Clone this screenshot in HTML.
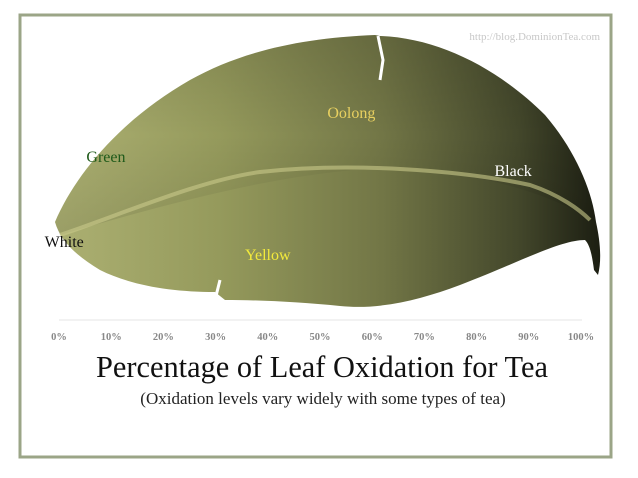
<!DOCTYPE html>
<html><head><meta charset="utf-8"><style>
html,body{margin:0;padding:0;background:#fff;}
svg{display:block;font-family:"Liberation Serif",serif;}
</style></head><body>
<svg width="638" height="478" viewBox="0 0 638 478">
<defs>
<linearGradient id="lg" x1="0" y1="0" x2="1" y2="0">
<stop offset="0" stop-color="#acb072"/>
<stop offset="0.3" stop-color="#959a5c"/>
<stop offset="0.6" stop-color="#727646"/>
<stop offset="0.85" stop-color="#43472b"/>
<stop offset="1" stop-color="#1c1e12"/>
</linearGradient>
<linearGradient id="vg" x1="0" y1="0" x2="0" y2="1">
<stop offset="0" stop-color="#000" stop-opacity="0.12"/>
<stop offset="0.5" stop-color="#000" stop-opacity="0"/>
<stop offset="1" stop-color="#000" stop-opacity="0.1"/>
</linearGradient>
</defs>
<rect x="20" y="15" width="591" height="442" fill="#fff" stroke="#9ba587" stroke-width="3"/>
<text x="600" y="40" font-size="11" fill="#c8c8c8" text-anchor="end">http://blog.DominionTea.com</text>
<g>
<path d="M55,222 C75,175 120,120 190,80 C240,52 300,38 375,35 L380,36 C440,38 500,70 545,115 C575,150 592,190 596,222 C600,240 602,260 598,275 L594,270 C592,255 590,245 585,240 C560,240 520,262 460,285 C420,300 380,310 340,306 C300,302 260,300 225,300 L215,292 C170,292 130,285 100,270 C75,255 60,240 55,222 Z" fill="url(#lg)"/>
<path d="M55,222 C75,175 120,120 190,80 C240,52 300,38 375,35 L380,36 C440,38 500,70 545,115 C575,150 592,190 596,222 C560,200 500,175 400,168 C300,168 180,200 60,235 Z" fill="url(#vg)"/>
<path d="M60,235 C120,215 200,180 260,172 C350,162 460,170 530,185 C560,195 580,210 590,220" fill="none" stroke="#c9c98a" stroke-width="4" stroke-opacity="0.6"/>
<path d="M378,36 L383,60 L380,80" stroke="#fff" stroke-width="3" fill="none"/>
<path d="M220,280 L215,300" stroke="#fff" stroke-width="3" fill="none"/>
</g>
<g id="labels"></g>
<line x1="59" y1="320" x2="582" y2="320" stroke="#e6e6e6" stroke-width="1"/>
<g id="ticks"></g>
<text x="322" y="377" font-size="31" text-anchor="middle" fill="#111" transform="translate(322 0) scale(0.98 1) translate(-322 0)">Percentage of Leaf Oxidation for Tea</text>
<text x="323" y="404" font-size="17" text-anchor="middle" fill="#222">(Oxidation levels vary widely with some types of tea)</text>
</svg>
<script>
const teaNames = ["White","Green","Yellow","Oolong","Black"];
const teaPcts = [1,9,40,56,87];
const teaYs = [241,156,254,112,170];
const teaColors = ["#111","#1f5a1a","#f2ea3c","#e8d060","#fff"];
const tickVals = [0,10,20,30,40,50,60,70,80,90,100];
const tickLabels = ["0%","10%","20%","30%","40%","50%","60%","70%","80%","90%","100%"];
const x = p => 59 + p*5.22;
const NS="http://www.w3.org/2000/svg";
const tg=document.getElementById('ticks');
tickVals.forEach((v,i)=>{
 const t=document.createElementNS(NS,'text');
 t.setAttribute('x',x(v));t.setAttribute('y',340);
 t.setAttribute('font-size','10.5');t.setAttribute('fill','#888');t.setAttribute('text-anchor','middle');
 t.setAttribute('font-weight','bold');
 
 
 t.textContent=tickLabels[i];tg.appendChild(t);
});
const lg=document.getElementById('labels');
teaNames.forEach((n,i)=>{
 const t=document.createElementNS(NS,'text');
 t.setAttribute('x',x(teaPcts[i]));t.setAttribute('y',teaYs[i]+6);
 t.setAttribute('font-size','16');t.setAttribute('fill',teaColors[i]);t.setAttribute('text-anchor','middle');
 
 
 t.textContent=n;lg.appendChild(t);
});
</script>
</body></html>
